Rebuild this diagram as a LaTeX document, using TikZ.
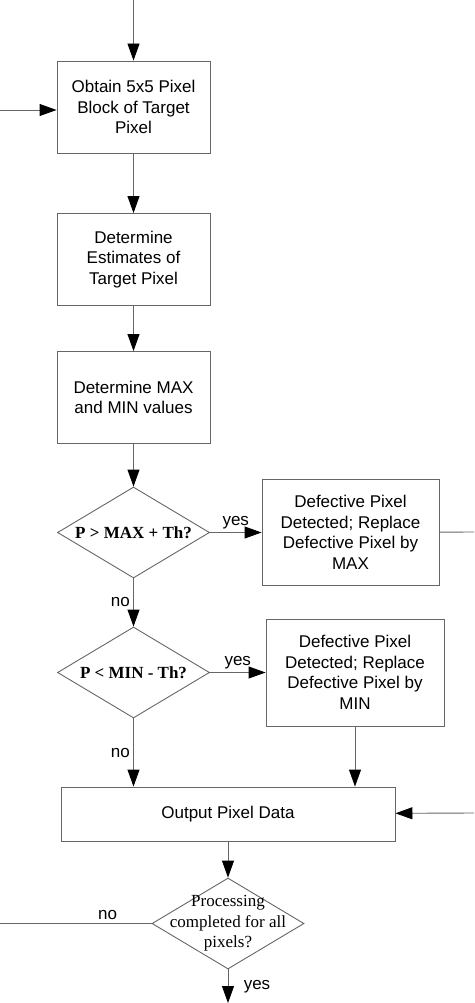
\documentclass[tikz,border=0pt]{standalone}
\usepackage{fontspec}
\setmainfont{Liberation Sans}
\newfontfamily\timesfont{Liberation Serif}
\usetikzlibrary{shapes,arrows,arrows.meta}
\tikzstyle{block} = [rectangle, draw=black!60, line width=0.9pt, align=center,
    minimum width=153pt, minimum height=92pt]
\tikzstyle{decision} = [diamond, draw=black!60, line width=0.9pt, align=center, aspect=1.67,
    inner sep=0pt, minimum width=152pt, minimum height=91pt, font=\timesfont\bfseries\fontsize{17}{20.5}\selectfont]
\tikzstyle{line} = [draw=black!60, line width=0.9pt, -{Triangle[length=17pt,width=12pt,color=black]}]
\tikzstyle{wire} = [draw=black!60, line width=0.9pt]

\begin{document}
\begin{tikzpicture}[x=1pt, y=1pt, font=\fontsize{17}{20.5}\selectfont]
    \useasboundingbox (0,0) rectangle (474,-1003);
    % Place nodes
    \node [block] (obtain) at (133.5,-107) {Obtain 5x5 Pixel\\Block of Target\\Pixel};
    \node [block, below of=obtain, node distance=152.5pt] (estimate) {Determine\\Estimates of\\Target Pixel};
    \node [block, below of=estimate, node distance=138pt] (maxmin) {Determine MAX\\and MIN values};
    \node [decision, below of=maxmin, node distance=135pt] (maxcheck) {P > MAX + Th?};
    \node [block, right of=maxcheck, node distance=217pt, minimum width=177pt, minimum height=106pt] (maxfix) {Defective Pixel\\Detected; Replace\\Defective Pixel by\\MAX};
    \node [decision, below of=maxcheck, node distance=140pt] (mincheck) {P < MIN - Th?};
    \node [block, right of=mincheck, node distance=221.5pt, minimum width=178pt, minimum height=107pt] (minfix) {Defective Pixel\\Detected; Replace\\Defective Pixel by\\MIN};
    \node [block, below of=mincheck, node distance=141.5pt, xshift=94.5pt, minimum width=334pt, minimum height=54pt] (output) {Output Pixel Data};
    \node [decision, below of=output, node distance=109.5pt, inner sep=-14pt,
        font=\timesfont\fontsize{17}{20.5}\selectfont] (done) {Processing\\completed for all\\pixels?};
    % Free ends
    \coordinate (topin) at (133.5,0);
    \coordinate (leftin) at (0,-110);
    \coordinate (rightout) at (474,-532);
    \coordinate (rightin) at (474,-813);
    \coordinate (leftout) at (0,-923.5);
    \coordinate (bottomout) at (228,-1003);
    % Draw edges
    \path [line] (topin) -- (obtain);
    \path [line] (leftin) -- (leftin -| obtain.west);
    \path [line] (obtain) -- (estimate);
    \path [line] (estimate) -- (maxmin);
    \path [line] (maxmin) -- (maxcheck);
    \path [line] (maxcheck) -- node [above] {yes} (maxfix);
    \path [wire] (maxfix) -- (rightout);
    \path [line] (maxcheck) -- node [left] {no} (mincheck);
    \path [line] (mincheck) -- node [above] {yes} (minfix);
    \path [line] (mincheck) -- node [left] {no} (mincheck |- output.north);
    \path [line] (minfix) -- (minfix |- output.north);
    \path [line] (rightin) -- (output);
    \path [line] (output) -- (done);
    \path [wire] (done) -- node [above, pos=0.29] {no} (leftout);
    \path [line] (done) -- node [right, xshift=12pt] {yes} (bottomout);
\end{tikzpicture}
\end{document}
